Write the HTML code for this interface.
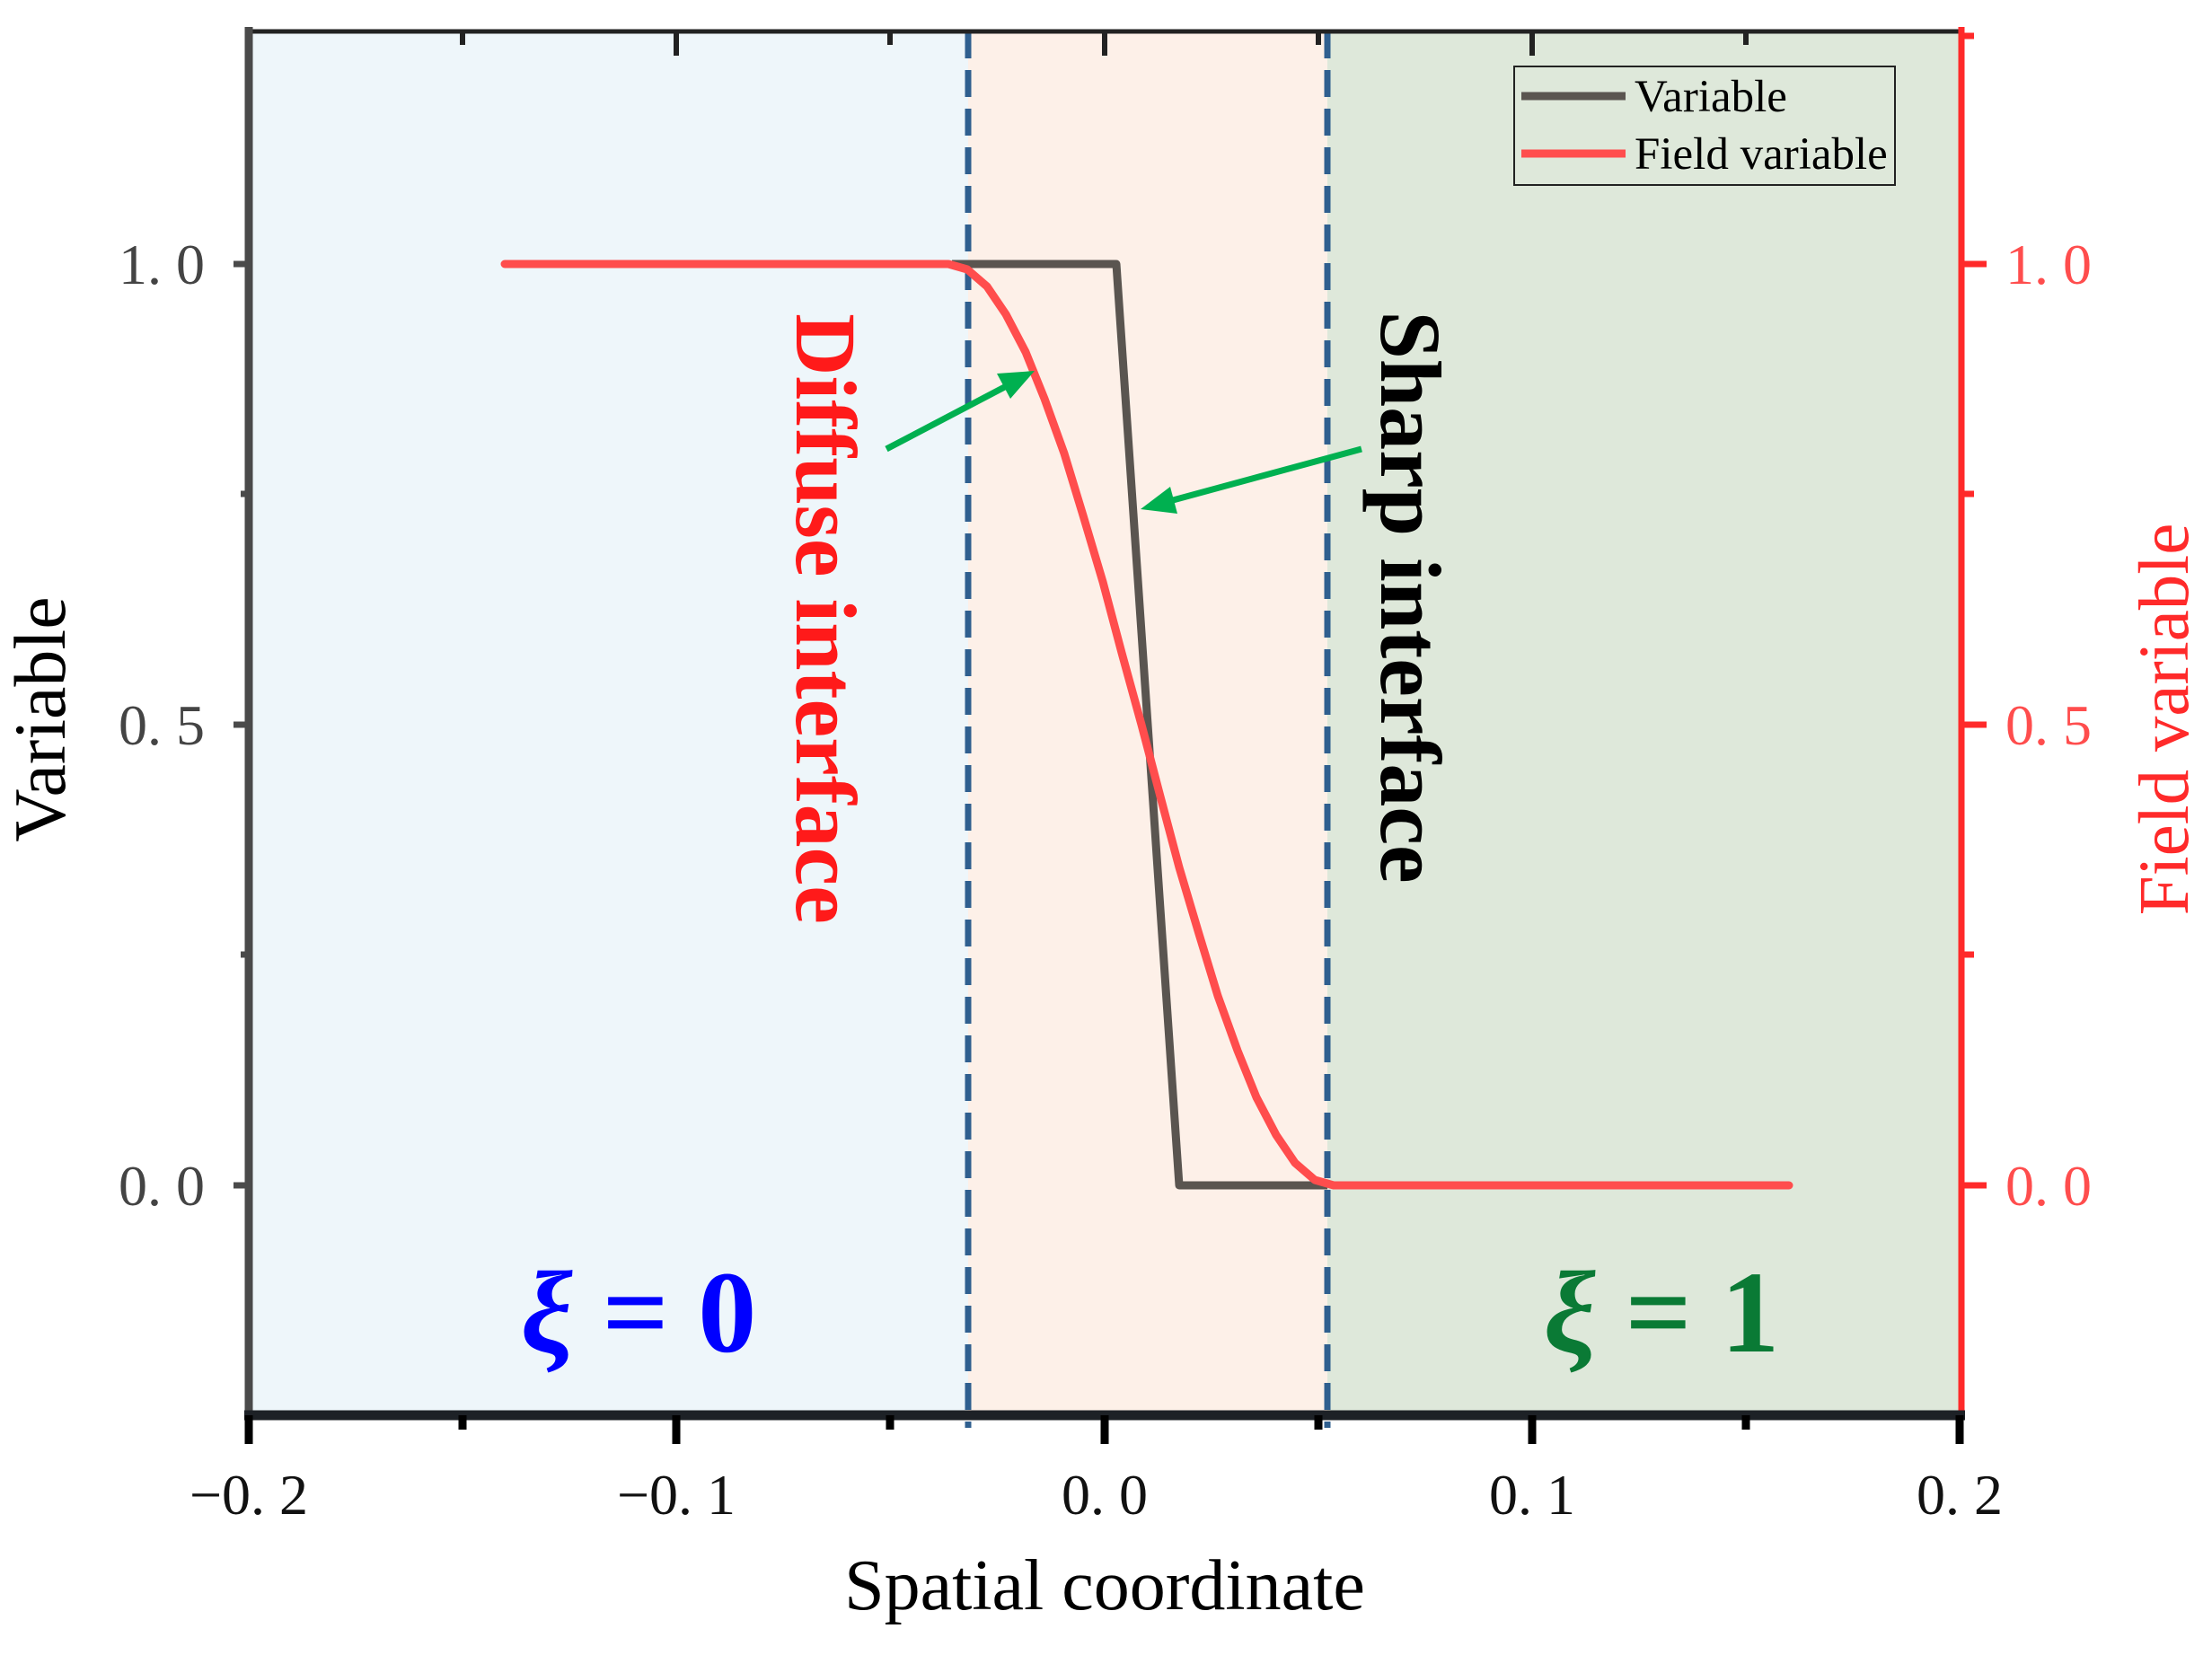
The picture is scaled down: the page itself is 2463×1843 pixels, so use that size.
<!DOCTYPE html>
<html><head><style>body{margin:0;background:#fff}</style></head><body>
<svg width="2463" height="1838" viewBox="0 0 2463 1838" xmlns="http://www.w3.org/2000/svg" font-family="Liberation Serif, serif">
<rect x="277" y="35" width="801" height="1541" fill="#eef6fa"/>
<rect x="1078" y="35" width="400" height="1541" fill="#fdf0e8"/>
<rect x="1478" y="35" width="706" height="1541" fill="#dee8da"/>
<line x1="1078" y1="35" x2="1078" y2="1590" stroke="#2f5f8f" stroke-width="7" stroke-dasharray="30,13"/>
<line x1="1478" y1="35" x2="1478" y2="1590" stroke="#2f5f8f" stroke-width="7" stroke-dasharray="30,13"/>
<polyline points="1060,294 1243,294 1313,1320 1478,1320" fill="none" stroke="#5a5550" stroke-width="9" stroke-linejoin="round"/>
<polyline fill="none" stroke="#ff4d4d" stroke-width="9" stroke-linejoin="round" stroke-linecap="round" points="562,294 1056,294 1077,300 1099,319 1120,350 1142,392 1163,444 1185,505 1206,574 1228,648 1249,727 1271,807 1292,887 1313,966 1335,1040 1356,1109 1378,1170 1399,1222 1421,1264 1442,1295 1464,1314 1485,1320 1992,1320"/>
<line x1="277" y1="35" x2="2184" y2="35" stroke="#222" stroke-width="5"/>
<line x1="277" y1="30" x2="277" y2="1581" stroke="#4a4a4a" stroke-width="9"/>
<line x1="2184" y1="30" x2="2184" y2="1581" stroke="#ff2a2a" stroke-width="7"/>
<line x1="272" y1="1576" x2="2188" y2="1576" stroke="#1d2126" stroke-width="11"/>
<g stroke="#000" stroke-width="9">
<line x1="277" y1="1576" x2="277" y2="1608"/><line x1="753" y1="1576" x2="753" y2="1608"/><line x1="1230" y1="1576" x2="1230" y2="1608"/><line x1="1706" y1="1576" x2="1706" y2="1608"/><line x1="2182" y1="1576" x2="2182" y2="1608"/>
<line x1="515" y1="1576" x2="515" y2="1592"/><line x1="991" y1="1576" x2="991" y2="1592"/><line x1="1468" y1="1576" x2="1468" y2="1592"/><line x1="1944" y1="1576" x2="1944" y2="1592"/>
</g>
<g stroke="#222" stroke-width="6">
<line x1="753" y1="35" x2="753" y2="62"/><line x1="1230" y1="35" x2="1230" y2="62"/><line x1="1706" y1="35" x2="1706" y2="62"/>
<line x1="515" y1="35" x2="515" y2="50"/><line x1="991" y1="35" x2="991" y2="50"/><line x1="1468" y1="35" x2="1468" y2="50"/><line x1="1944" y1="35" x2="1944" y2="50"/>
</g>
<g stroke="#4a4a4a" stroke-width="7">
<line x1="260" y1="294" x2="277" y2="294"/><line x1="260" y1="807" x2="277" y2="807"/><line x1="260" y1="1320" x2="277" y2="1320"/>
<line x1="268" y1="550" x2="277" y2="550"/><line x1="268" y1="1063" x2="277" y2="1063"/>
</g>
<g stroke="#ff2a2a" stroke-width="7">
<line x1="2184" y1="294" x2="2212" y2="294"/><line x1="2184" y1="807" x2="2212" y2="807"/><line x1="2184" y1="1320" x2="2212" y2="1320"/>
<line x1="2184" y1="550" x2="2198" y2="550"/><line x1="2184" y1="1063" x2="2198" y2="1063"/><line x1="2184" y1="40" x2="2198" y2="40"/>
</g>
<g font-size="64" fill="#444" text-anchor="end">
<text x="228" y="316">1. 0</text><text x="228" y="829">0. 5</text><text x="228" y="1342">0. 0</text>
</g>
<g font-size="64" fill="#ff4d4d">
<text x="2233" y="316">1. 0</text><text x="2233" y="829">0. 5</text><text x="2233" y="1342">0. 0</text>
</g>
<g font-size="64" fill="#111" text-anchor="middle">
<text x="277" y="1686">−0. 2</text><text x="753" y="1686">−0. 1</text><text x="1230" y="1686">0. 0</text><text x="1706" y="1686">0. 1</text><text x="2182" y="1686">0. 2</text>
</g>
<text x="1230" y="1792" font-size="80" text-anchor="middle">Spatial coordinate</text>
<text transform="translate(72,801) rotate(-90)" font-size="82" text-anchor="middle">Variable</text>
<text transform="translate(2436,801) rotate(-90)" font-size="79" fill="#ff2a2a" text-anchor="middle">Field variable</text>
<text transform="translate(887,689) rotate(90)" font-size="96" font-weight="bold" fill="#ff1a1a" text-anchor="middle">Diffuse interface</text>
<text transform="translate(1538,665) rotate(90)" font-size="96" font-weight="bold" fill="#000" text-anchor="middle">Sharp interface</text>
<text x="711" y="1505" font-size="130" font-weight="bold" fill="#0000ff" text-anchor="middle"><tspan font-style="italic">ξ</tspan> = 0</text>
<text x="1850" y="1505" font-size="130" font-weight="bold" fill="#0a7a35" text-anchor="middle"><tspan font-style="italic">ξ</tspan> = 1</text>
<g stroke="#00b050" stroke-width="7" fill="#00b050">
<line x1="987" y1="500" x2="1130" y2="425"/>
<polygon points="1152,413 1110,416 1125,444" stroke="none"/>
<line x1="1516" y1="500" x2="1295" y2="560"/>
<polygon points="1270,567 1303,542 1311,572" stroke="none"/>
</g>
<rect x="1686" y="74" width="424" height="132" fill="none" stroke="#222" stroke-width="2"/>
<line x1="1694" y1="107" x2="1810" y2="107" stroke="#5a5550" stroke-width="9"/>
<line x1="1694" y1="171" x2="1810" y2="171" stroke="#ff4d4d" stroke-width="9"/>
<text x="1820" y="124" font-size="51">Variable</text>
<text x="1820" y="188" font-size="51">Field variable</text>
</svg>
</body></html>
